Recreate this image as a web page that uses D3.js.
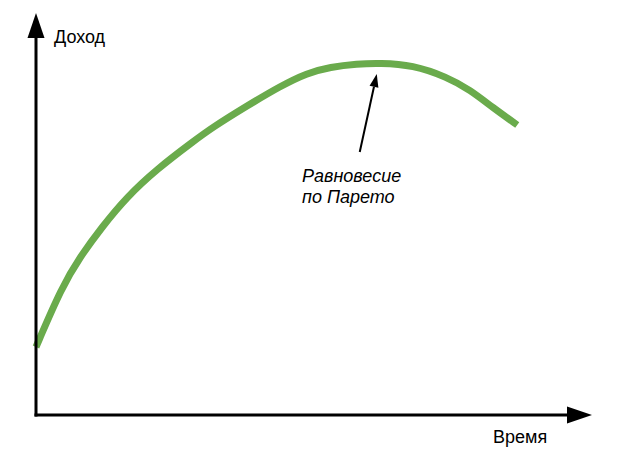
<!DOCTYPE html>
<html>
<head>
<meta charset="utf-8">
<script src="https://cdn.jsdelivr.net/npm/d3@7"></script>
<style>
  html, body { margin: 0; padding: 0; background: #fff; }
  svg { display: block; }
  text { font-family: "Liberation Sans", Arial, sans-serif; }
</style>
</head>
<body>
<svg id="chart" width="642" height="468"></svg>
<script>
// Data (relative units: time 0..100, revenue 0..100)
const time    = [0, 4.7, 8, 12, 16.5, 22, 28.5, 32.2, 38.4, 44.4, 49.3, 53.5, 58.4, 62.5, 68.5, 74.7, 78.9, 83.1, 87.5];
const revenue = [17, 32, 39.5, 47, 54.5, 61.5, 68.3, 72, 77.3, 82.2, 85.5, 87, 87.8, 88, 87.5, 84.5, 81.3, 76.8, 72.5];
const axisLabels = { y: "Доход", x: "Время" };
const annotationLines = ["Равновесие", "по Парето"];
const annotationTarget = { t: 62.5, r: 88 };

const svg = d3.select("#chart");
const x = d3.scaleLinear().domain([0, 100]).range([36, 586]);
const y = d3.scaleLinear().domain([0, 100]).range([415, 15]);

// Curve
const line = d3.line()
  .x((d, i) => x(time[i]))
  .y((d, i) => y(revenue[i]))
  .curve(d3.curveBasis);
svg.append("path")
  .datum(revenue)
  .attr("d", line)
  .attr("fill", "none")
  .attr("stroke", "#6aab4c")
  .attr("stroke-width", 7)
  .attr("stroke-linecap", "butt");

// Axes
const x0 = x(0), y0 = y(0);
svg.append("line").attr("x1", x0).attr("y1", y0 + 1.5).attr("x2", x0).attr("y2", 30)
  .attr("stroke", "#000").attr("stroke-width", 3);
svg.append("line").attr("x1", x0 - 1.5).attr("y1", y0).attr("x2", 575).attr("y2", y0)
  .attr("stroke", "#000").attr("stroke-width", 3);
// arrowheads
svg.append("polygon")
  .attr("points", [[x0, 13], [x0 - 8.5, 38], [x0 + 8.5, 38]].map(p => p.join(",")).join(" "))
  .attr("fill", "#000");
svg.append("polygon")
  .attr("points", [[592, y0], [567, y0 - 8.5], [567, y0 + 8.5]].map(p => p.join(",")).join(" "))
  .attr("fill", "#000");

svg.append("text").attr("x", 54).attr("y", 43).attr("font-size", 18).attr("fill", "#000").text(axisLabels.y);
svg.append("text").attr("x", 493).attr("y", 443).attr("font-size", 18).attr("fill", "#000").text(axisLabels.x);

// Annotation arrow
const tipX = x(annotationTarget.t) - 3, tipY = y(annotationTarget.r) + 11;
const tailX = tipX - 17, tailY = tipY + 78;
const ang = Math.atan2(tipY - tailY, tipX - tailX);
const hl = 13, hw = 4.5;
const bx = tipX - hl * Math.cos(ang), by = tipY - hl * Math.sin(ang);
svg.append("line").attr("x1", tailX).attr("y1", tailY).attr("x2", bx).attr("y2", by)
  .attr("stroke", "#000").attr("stroke-width", 2);
svg.append("polygon")
  .attr("points", [
    [tipX, tipY],
    [bx + hw * Math.sin(ang), by - hw * Math.cos(ang)],
    [bx - hw * Math.sin(ang), by + hw * Math.cos(ang)]
  ].map(p => p.join(",")).join(" "))
  .attr("fill", "#000");

const ann = svg.append("text").attr("font-size", 18).attr("font-style", "italic").attr("fill", "#000");
annotationLines.forEach((t, i) => {
  ann.append("tspan").attr("x", 302).attr("y", 182 + i * 21).text(t);
});
</script>
</body>
</html>
